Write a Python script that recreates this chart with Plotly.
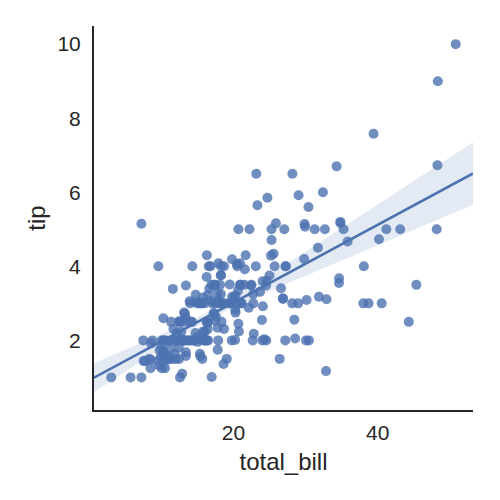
import numpy as np
import plotly.graph_objects as go

total_bill = [16.99, 10.34, 21.01, 23.68, 24.59, 25.29, 8.77, 26.88, 15.04, 14.78,
              10.27, 35.26, 15.42, 18.43, 14.83, 21.58, 10.33, 16.29, 16.97, 20.65,
              17.92, 20.29, 15.77, 39.42, 19.82, 17.81, 13.37, 12.69, 21.7, 19.65,
              9.55, 18.35, 15.06, 20.69, 17.78, 24.06, 16.31, 16.93, 18.69, 31.27,
              16.04, 17.46, 13.94, 9.68, 30.4, 18.29, 22.23, 32.4, 28.55, 18.04,
              12.54, 10.29, 34.81, 9.94, 25.56, 19.49, 38.01, 26.41, 11.24, 48.27,
              20.29, 13.81, 11.02, 18.29, 17.59, 20.08, 16.45, 3.07, 20.23, 15.01,
              12.02, 17.07, 26.86, 25.28, 14.73, 10.51, 17.92, 27.2, 22.76, 17.29,
              19.44, 16.66, 10.07, 32.68, 15.98, 34.83, 13.03, 18.28, 24.71, 21.16,
              28.97, 22.49, 5.75, 16.32, 22.75, 40.17, 27.28, 12.03, 21.01, 12.46,
              11.35, 15.38, 44.3, 22.42, 20.92, 15.36, 20.49, 25.21, 18.24, 14.31,
              14.0, 7.25, 38.07, 23.95, 25.71, 17.31, 29.93, 10.65, 12.43, 24.08,
              11.69, 13.42, 14.26, 15.95, 12.48, 29.8, 8.52, 14.52, 11.38, 22.82,
              19.08, 20.27, 11.17, 12.26, 18.26, 8.51, 10.33, 14.15, 16.0, 13.16,
              17.47, 34.3, 41.19, 27.05, 16.43, 8.35, 18.64, 11.87, 9.78, 7.51,
              14.07, 13.13, 17.26, 24.55, 19.77, 29.85, 48.17, 25.0, 13.39, 16.49,
              21.5, 12.66, 16.21, 13.81, 17.51, 24.52, 20.76, 31.71, 10.59, 10.63,
              50.81, 15.81, 7.25, 31.85, 16.82, 32.9, 17.89, 14.48, 9.6, 34.63,
              34.65, 23.33, 45.35, 23.17, 40.55, 20.69, 20.9, 30.46, 18.15, 23.1,
              15.69, 19.81, 28.44, 15.48, 16.58, 7.56, 10.34, 43.11, 13.0, 13.51,
              18.71, 12.74, 13.0, 16.4, 20.53, 16.47, 26.59, 38.73, 24.27, 12.76,
              30.06, 25.89, 48.33, 13.27, 28.17, 12.9, 28.15, 11.59, 7.74, 30.14,
              12.16, 13.42, 8.58, 15.98, 13.42, 16.27, 10.09, 20.45, 13.28, 22.12,
              24.01, 15.69, 11.61, 10.77, 15.53, 10.07, 12.6, 32.83, 35.83, 29.03,
              27.18, 22.67, 17.82, 18.78]
tip = [1.01, 1.66, 3.5, 3.31, 3.61, 4.71, 2.0, 3.12, 1.96, 3.23,
       1.71, 5.0, 1.57, 3.0, 3.02, 3.92, 1.67, 3.71, 3.5, 3.35,
       4.08, 2.75, 2.23, 7.58, 3.18, 2.34, 2.0, 2.0, 4.3, 3.0,
       1.45, 2.5, 3.0, 2.45, 3.27, 3.6, 2.0, 3.07, 2.31, 5.0,
       2.24, 2.54, 3.06, 1.32, 5.6, 3.0, 5.0, 6.0, 2.05, 3.0,
       2.5, 2.6, 5.2, 1.56, 4.34, 3.51, 3.0, 1.5, 1.76, 6.73,
       3.21, 2.0, 1.98, 3.76, 2.64, 3.15, 2.47, 1.0, 2.01, 2.09,
       1.97, 3.0, 3.14, 5.0, 2.2, 1.25, 3.08, 4.0, 3.0, 2.71,
       3.0, 3.4, 1.83, 5.0, 2.03, 5.17, 2.0, 4.0, 5.85, 3.0,
       3.0, 3.5, 1.0, 4.3, 3.25, 4.73, 4.0, 1.5, 3.0, 1.5,
       2.5, 3.0, 2.5, 3.48, 4.08, 1.64, 4.06, 4.29, 3.76, 4.0,
       3.0, 1.0, 4.0, 2.55, 4.0, 3.5, 5.07, 1.5, 1.8, 2.92,
       2.31, 1.68, 2.5, 2.0, 2.52, 4.2, 1.48, 2.0, 2.0, 2.18,
       1.5, 2.83, 1.5, 2.0, 3.25, 1.25, 2.0, 2.0, 2.0, 2.75,
       3.5, 6.7, 5.0, 5.0, 2.3, 1.5, 1.36, 1.63, 1.73, 2.0,
       2.5, 2.0, 2.74, 2.0, 2.0, 5.14, 5.0, 3.75, 2.61, 2.0,
       3.5, 2.5, 2.0, 2.0, 3.0, 3.48, 2.24, 4.5, 1.61, 2.0,
       10.0, 3.16, 5.15, 3.18, 4.0, 3.11, 2.0, 2.0, 4.0, 3.55,
       3.68, 5.65, 3.5, 6.5, 3.0, 5.0, 3.5, 2.0, 3.5, 4.0,
       1.5, 4.19, 2.56, 2.02, 4.0, 1.44, 2.0, 5.0, 2.0, 2.0,
       4.0, 2.01, 2.0, 2.5, 4.0, 3.23, 3.41, 3.0, 2.03, 2.23,
       2.0, 5.16, 9.0, 2.5, 6.5, 1.1, 3.0, 1.5, 1.44, 3.09,
       2.2, 3.48, 1.92, 3.0, 1.58, 2.5, 2.0, 3.0, 2.72, 2.88,
       2.0, 3.0, 3.39, 1.47, 3.0, 1.25, 1.0, 1.17, 4.67, 5.92,
       2.0, 2.0, 1.75, 3.0]

x_range = [0.68, 53.2]
y_range = [0.12, 10.49]
x_ticks = [20, 40]
y_ticks = [2, 4, 6, 8, 10]

blue = "#4c72b0"
ink = "#262626"

# linear fit with a robust (sandwich) 95% band
x = np.array(total_bill)
y = np.array(tip)
X = np.column_stack([np.ones_like(x), x])
bread = np.linalg.inv(X.T @ X)
beta = bread @ X.T @ y
resid = y - X @ beta
meat = X.T @ (X * resid[:, None] ** 2)
cov = bread @ meat @ bread * len(x) / (len(x) - 2)

grid = np.linspace(x_range[0], x_range[1], 100)
G = np.column_stack([np.ones_like(grid), grid])
yhat = G @ beta
se = np.sqrt(np.einsum("ij,jk,ik->i", G, cov, G))
lo, hi = yhat - 1.96 * se, yhat + 1.96 * se

fig = go.Figure()
fig.add_trace(go.Scatter(
    x=np.concatenate([grid, grid[::-1]]),
    y=np.concatenate([hi, lo[::-1]]),
    fill="toself", fillcolor="rgba(76,114,176,0.15)",
    line=dict(width=0), hoverinfo="skip", showlegend=False,
))
fig.add_trace(go.Scatter(
    x=total_bill, y=tip, mode="markers",
    marker=dict(color=blue, opacity=0.8, size=10, line=dict(width=0)),
    showlegend=False,
))
fig.add_trace(go.Scatter(
    x=grid, y=yhat, mode="lines",
    line=dict(color=blue, width=2.6), showlegend=False,
))

axis_style = dict(
    showgrid=False, zeroline=False, showline=True, linecolor=ink, linewidth=2,
    ticks="", tickfont=dict(size=21, color=ink), automargin=False,
    title_font=dict(size=24, color=ink),
)
fig.update_xaxes(range=x_range, tickvals=x_ticks, title_text="total_bill",
                 ticklabelstandoff=3, title_standoff=10, **axis_style)
fig.update_yaxes(range=y_range, tickvals=y_ticks, title_text="tip",
                 ticklabelstandoff=7, title_standoff=5, **axis_style)

# page body adds 8px, so margins are shifted to keep the plot box in place
fig.update_layout(
    width=500, height=500,
    margin=dict(l=86, r=35, t=18, b=98),
    plot_bgcolor="white", paper_bgcolor="white",
    font=dict(family="Liberation Sans, Arial, sans-serif", color=ink),
)

fig.write_html("out.html")
